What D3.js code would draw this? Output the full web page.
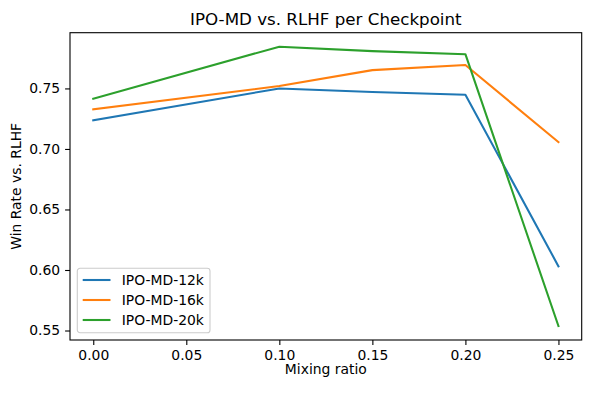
<!DOCTYPE html>
<html>
<head>
<meta charset="utf-8">
<script src="https://cdn.jsdelivr.net/npm/d3@7"></script>
<style>
  html, body { margin: 0; padding: 0; background: #fff; }
  svg { display: block; font-family: "DejaVu Sans", sans-serif; }
</style>
</head>
<body>
<div id="chart"></div>
<script>
const mixingRatios = [0.0, 0.10, 0.15, 0.20, 0.25];
const seriesNames = ["IPO-MD-12k", "IPO-MD-16k", "IPO-MD-20k"];
const winRate12k = [0.7236, 0.7500, 0.7470, 0.7448, 0.6031];
const winRate16k = [0.7327, 0.7520, 0.7651, 0.7693, 0.7057];
const winRate20k = [0.7415, 0.7845, 0.7808, 0.7783, 0.5537];
const xTicks = [0.00, 0.05, 0.10, 0.15, 0.20, 0.25];
const yTicks = [0.55, 0.60, 0.65, 0.70, 0.75];
const colors = ["#1f77b4", "#ff7f0e", "#2ca02c"];

const width = 595, height = 395;
const margin = { top: 32.7, right: 13.3, bottom: 55, left: 70 };
const innerW = width - margin.left - margin.right;
const innerH = height - margin.top - margin.bottom;

const series = [winRate12k, winRate16k, winRate20k].map((vals, i) => ({
  name: seriesNames[i],
  color: colors[i],
  points: vals.map((v, j) => [mixingRatios[j], v])
}));

const svg = d3.select("#chart").append("svg")
  .attr("width", width)
  .attr("height", height)
  .attr("viewBox", `0 0 ${width} ${height}`);

const root = svg.append("g").attr("transform", `translate(${margin.left}, ${margin.top})`);

// matplotlib-like 5% margins
const xExt = d3.extent(mixingRatios);
const xPad = (xExt[1] - xExt[0]) * 0.05;
const allY = [...winRate12k, ...winRate16k, ...winRate20k];
const yExt = d3.extent(allY);
const yPad = (yExt[1] - yExt[0]) * 0.05;

const x = d3.scaleLinear().domain([xExt[0] - xPad, xExt[1] + xPad]).range([0, innerW]);
const y = d3.scaleLinear().domain([yExt[0] - yPad, yExt[1] + yPad]).range([innerH, 0]);

const tickFont = "13.9px";

root.append("g")
  .attr("transform", `translate(0, ${innerH})`)
  .call(d3.axisBottom(x).tickValues(xTicks).tickFormat(d3.format(".2f")).tickSizeOuter(0).tickSize(4.9).tickPadding(4.9))
  .call((g) => g.select(".domain").remove())
  .call((g) => g.selectAll("line").attr("stroke", "#000").attr("stroke-width", 1.1))
  .call((g) => g.selectAll("text").attr("fill", "#000").attr("font-size", tickFont).attr("font-family", "DejaVu Sans"));

root.append("g")
  .call(d3.axisLeft(y).tickValues(yTicks).tickFormat(d3.format(".2f")).tickSizeOuter(0).tickSize(4.9).tickPadding(4.9))
  .call((g) => g.select(".domain").remove())
  .call((g) => g.selectAll("line").attr("stroke", "#000").attr("stroke-width", 1.1))
  .call((g) => g.selectAll("text").attr("fill", "#000").attr("font-size", tickFont).attr("font-family", "DejaVu Sans"));

// lines
const line = d3.line().x((d) => x(d[0])).y((d) => y(d[1]));
root.selectAll("path.series")
  .data(series)
  .enter()
  .append("path")
  .attr("class", "series")
  .attr("d", (d) => line(d.points))
  .attr("fill", "none")
  .attr("stroke", (d) => d.color)
  .attr("stroke-width", 2.08)
  .attr("stroke-linejoin", "round")
  .attr("stroke-linecap", "square");

// frame
root.append("rect")
  .attr("x", 0).attr("y", 0)
  .attr("width", innerW).attr("height", innerH)
  .attr("fill", "none")
  .attr("stroke", "#000")
  .attr("stroke-width", 1.1);

// title and axis labels
svg.append("text")
  .attr("x", margin.left + innerW / 2)
  .attr("y", 24.6)
  .attr("text-anchor", "middle")
  .attr("font-size", "16.7px")
  .attr("fill", "#000")
  .text("IPO-MD vs. RLHF per Checkpoint");

svg.append("text")
  .attr("x", margin.left + innerW / 2)
  .attr("y", 373.5)
  .attr("text-anchor", "middle")
  .attr("font-size", tickFont)
  .attr("fill", "#000")
  .text("Mixing ratio");

svg.append("text")
  .attr("transform", `translate(21, ${margin.top + innerH / 2}) rotate(-90)`)
  .attr("text-anchor", "middle")
  .attr("font-size", tickFont)
  .attr("fill", "#000")
  .text("Win Rate vs. RLHF");

// legend
const legend = root.append("g").attr("transform", `translate(7.3, ${268.3 - margin.top})`);
legend.append("rect")
  .attr("width", 132.7).attr("height", 64.4)
  .attr("rx", 2.8).attr("ry", 2.8)
  .attr("fill", "#fff").attr("fill-opacity", 0.8)
  .attr("stroke", "#cccccc").attr("stroke-width", 1.1);

const item = legend.selectAll("g.item")
  .data(series)
  .enter()
  .append("g")
  .attr("class", "item")
  .attr("transform", (d, i) => `translate(0, ${11.7 + i * 20})`);

item.append("line")
  .attr("x1", 5.4).attr("x2", 33.2)
  .attr("y1", 0).attr("y2", 0)
  .attr("stroke", (d) => d.color)
  .attr("stroke-width", 2.08);

item.append("text")
  .attr("x", 44.4)
  .attr("y", 0)
  .attr("dy", "0.36em")
  .attr("font-size", tickFont)
  .attr("fill", "#000")
  .text((d) => d.name);
</script>
</body>
</html>
